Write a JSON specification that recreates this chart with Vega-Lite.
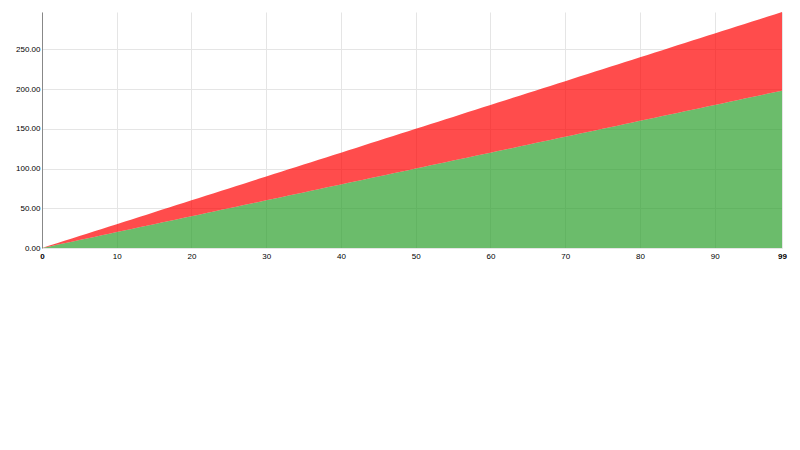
{
  "$schema": "https://vega.github.io/schema/vega-lite/v6.json",
  "width": 740,
  "height": 236,
  "autosize": {"type": "none"},
  "padding": {"left": 42, "top": 12, "right": 18, "bottom": 202},
  "background": "white",
  "config": {"view": {"stroke": null}, "font": "Liberation Sans", "axis": {"labelFont": "Liberation Sans"}},
  "data": {"values": [
    {"x":0,"Green":0,"Red":0},{"x":1,"Green":2,"Red":1},{"x":2,"Green":4,"Red":2},{"x":3,"Green":6,"Red":3},{"x":4,"Green":8,"Red":4},
    {"x":5,"Green":10,"Red":5},{"x":6,"Green":12,"Red":6},{"x":7,"Green":14,"Red":7},{"x":8,"Green":16,"Red":8},{"x":9,"Green":18,"Red":9},
    {"x":10,"Green":20,"Red":10},{"x":11,"Green":22,"Red":11},{"x":12,"Green":24,"Red":12},{"x":13,"Green":26,"Red":13},{"x":14,"Green":28,"Red":14},
    {"x":15,"Green":30,"Red":15},{"x":16,"Green":32,"Red":16},{"x":17,"Green":34,"Red":17},{"x":18,"Green":36,"Red":18},{"x":19,"Green":38,"Red":19},
    {"x":20,"Green":40,"Red":20},{"x":21,"Green":42,"Red":21},{"x":22,"Green":44,"Red":22},{"x":23,"Green":46,"Red":23},{"x":24,"Green":48,"Red":24},
    {"x":25,"Green":50,"Red":25},{"x":26,"Green":52,"Red":26},{"x":27,"Green":54,"Red":27},{"x":28,"Green":56,"Red":28},{"x":29,"Green":58,"Red":29},
    {"x":30,"Green":60,"Red":30},{"x":31,"Green":62,"Red":31},{"x":32,"Green":64,"Red":32},{"x":33,"Green":66,"Red":33},{"x":34,"Green":68,"Red":34},
    {"x":35,"Green":70,"Red":35},{"x":36,"Green":72,"Red":36},{"x":37,"Green":74,"Red":37},{"x":38,"Green":76,"Red":38},{"x":39,"Green":78,"Red":39},
    {"x":40,"Green":80,"Red":40},{"x":41,"Green":82,"Red":41},{"x":42,"Green":84,"Red":42},{"x":43,"Green":86,"Red":43},{"x":44,"Green":88,"Red":44},
    {"x":45,"Green":90,"Red":45},{"x":46,"Green":92,"Red":46},{"x":47,"Green":94,"Red":47},{"x":48,"Green":96,"Red":48},{"x":49,"Green":98,"Red":49},
    {"x":50,"Green":100,"Red":50},{"x":51,"Green":102,"Red":51},{"x":52,"Green":104,"Red":52},{"x":53,"Green":106,"Red":53},{"x":54,"Green":108,"Red":54},
    {"x":55,"Green":110,"Red":55},{"x":56,"Green":112,"Red":56},{"x":57,"Green":114,"Red":57},{"x":58,"Green":116,"Red":58},{"x":59,"Green":118,"Red":59},
    {"x":60,"Green":120,"Red":60},{"x":61,"Green":122,"Red":61},{"x":62,"Green":124,"Red":62},{"x":63,"Green":126,"Red":63},{"x":64,"Green":128,"Red":64},
    {"x":65,"Green":130,"Red":65},{"x":66,"Green":132,"Red":66},{"x":67,"Green":134,"Red":67},{"x":68,"Green":136,"Red":68},{"x":69,"Green":138,"Red":69},
    {"x":70,"Green":140,"Red":70},{"x":71,"Green":142,"Red":71},{"x":72,"Green":144,"Red":72},{"x":73,"Green":146,"Red":73},{"x":74,"Green":148,"Red":74},
    {"x":75,"Green":150,"Red":75},{"x":76,"Green":152,"Red":76},{"x":77,"Green":154,"Red":77},{"x":78,"Green":156,"Red":78},{"x":79,"Green":158,"Red":79},
    {"x":80,"Green":160,"Red":80},{"x":81,"Green":162,"Red":81},{"x":82,"Green":164,"Red":82},{"x":83,"Green":166,"Red":83},{"x":84,"Green":168,"Red":84},
    {"x":85,"Green":170,"Red":85},{"x":86,"Green":172,"Red":86},{"x":87,"Green":174,"Red":87},{"x":88,"Green":176,"Red":88},{"x":89,"Green":178,"Red":89},
    {"x":90,"Green":180,"Red":90},{"x":91,"Green":182,"Red":91},{"x":92,"Green":184,"Red":92},{"x":93,"Green":186,"Red":93},{"x":94,"Green":188,"Red":94},
    {"x":95,"Green":190,"Red":95},{"x":96,"Green":192,"Red":96},{"x":97,"Green":194,"Red":97},{"x":98,"Green":196,"Red":98},{"x":99,"Green":198,"Red":99}
  ]},
  "transform": [
    {"fold": ["Green", "Red"], "as": ["series", "value"]},
    {"calculate": "datum.series === 'Green' ? 0 : 1", "as": "ord"}
  ],
  "mark": {"type": "area", "fillOpacity": 0.7, "interpolate": "linear"},
  "encoding": {
    "x": {
      "field": "x", "type": "quantitative",
      "scale": {"domain": [0, 99], "nice": false, "zero": false},
      "axis": {
        "title": null,
        "values": [0, 10, 20, 30, 40, 50, 60, 70, 80, 90, 99],
        "grid": true, "gridColor": "#e5e5e5", "gridWidth": 1,
        "domain": false, "ticks": false,
        "labelFontSize": 8, "labelColor": "#000", "labelPadding": 4,
        "labelFontWeight": {"expr": "datum.value === 0 || datum.value === 99 ? 'bold' : 'normal'"},
        "labelFlush": false, "labelOverlap": false
      }
    },
    "y": {
      "field": "value", "type": "quantitative", "stack": "zero",
      "scale": {"domain": [0, 297], "nice": false},
      "axis": {
        "title": null,
        "values": [0, 50, 100, 150, 200, 250],
        "format": ".2f",
        "grid": true, "gridColor": "#e5e5e5", "gridWidth": 1,
        "domain": true, "domainColor": "#888", "domainWidth": 1,
        "ticks": false,
        "labelFontSize": 8, "labelColor": "#000", "labelPadding": 2,
        "labelFlush": false, "labelOverlap": false
      }
    },
    "color": {
      "field": "series", "type": "nominal",
      "scale": {"domain": ["Green", "Red"], "range": ["#2ca02c", "#ff0000"]},
      "legend": null
    },
    "order": {"field": "ord", "type": "quantitative"}
  }
}
